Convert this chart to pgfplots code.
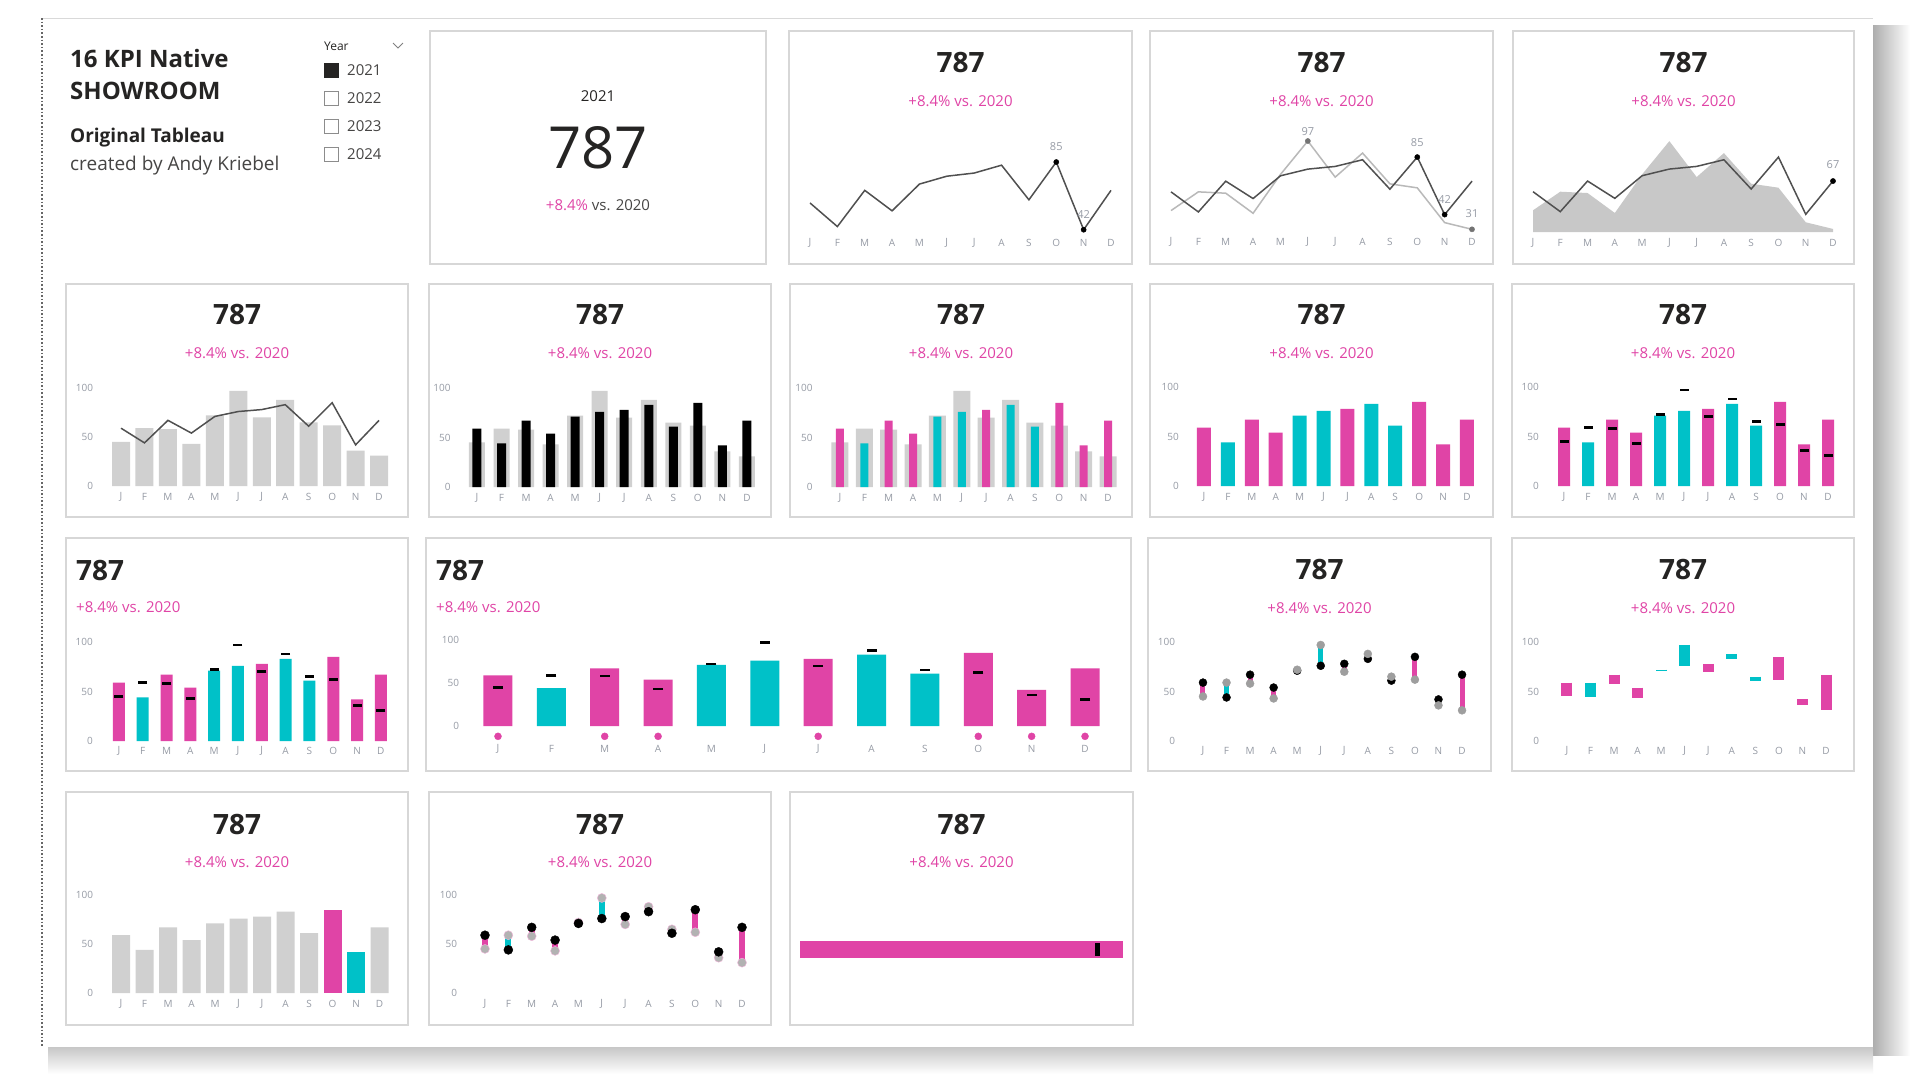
\documentclass[border=0pt]{standalone}
\usepackage{fontspec}
\setmainfont{Open Sans}
\usepackage{pgfplots}
\usepackage{pgfplotstable}
\pgfplotsset{compat=1.18}
\definecolor{pinkc}{RGB}{224,68,166}
\definecolor{cyanc}{RGB}{0,193,200}
\definecolor{barg}{RGB}{208,208,208}
\definecolor{areag}{RGB}{200,200,200}
\definecolor{lineg}{RGB}{80,80,80}
\definecolor{lightl}{RGB}{185,185,185}
\definecolor{tickg}{RGB}{150,155,165}
\definecolor{boxg}{RGB}{215,215,215}
\definecolor{ttlc}{RGB}{37,36,35}

\pgfplotstableread{
m cur prev
0 59 45
1 44 59
2 67 58
3 54 43
4 71 72
5 76 97
6 78 70
7 83 88
8 61 65
9 85 62
10 42 36
11 67 31
}\data
\pgfplotstableread{
m cur prev
0 59 45
2 67 58
3 54 43
6 78 70
9 85 62
10 42 36
11 67 31
}\up
\pgfplotstableread{
m cur prev
1 44 59
4 71 72
5 76 97
7 83 88
8 61 65
}\down

\pgfplotsset{
  kpibase/.style={scale only axis, anchor=south west, axis line style={draw=none},
    tick style={draw=none}, major tick length=0pt, clip=false,
    xtick={0,...,11}, xticklabels={J,F,M,A,M,J,J,A,S,O,N,D},
    tick label style={font=\fontsize{10}{10}\selectfont, text=tickg, inner sep=0pt},
    xticklabel style={anchor=center}},
  bars/.style={kpibase, xmin=-0.5, xmax=11.5, ymin=0, ymax=100, ytick={0,50,100},
    yticklabels={0,50,100}, yticklabel style={anchor=east}},
  lbl/.style={point meta=explicit symbolic, nodes near coords,
    every node near coord/.append style={anchor=center, font=\fontsize{11}{11}\selectfont, text=tickg, yshift=#1}},
  ptick/.style={only marks, mark=-, mark size=#1, mark options={line width=2.5pt, black}},
  seg/.style 2 args={draw=none, mark=none, forget plot, error bars/.cd, y dir=minus, y explicit,
    error bar style={draw=#1, line width=#2, solid}, error mark=none},
}
\newcommand\tfont{\fontsize{28}{30}\selectfont\bfseries\color{ttlc}}
\newcommand\sfont{\fontsize{15}{16}\selectfont\color{pinkc}}

\begin{document}
\begin{tikzpicture}[x=1pt,y=1pt]
\path[use as bounding box, fill=white] (0,0) rectangle (1920,-1080);
% page shadow
\shade[left color=black!32, right color=white] (1873,-25) rectangle (1910,-1055);
\shade[top color=black!22, bottom color=white] (48,-1047) rectangle (1873,-1074);
\fill[white] (42,-18) rectangle (1873,-1047);
\draw[black!15, line width=0.8pt] (42,-18) -- (1873,-18);
\draw[black!60, dotted, line width=1.6pt] (42,-18) -- (42,-1047);

% panel boxes
\foreach \a/\b/\c/\d in {430/31/766/264, 789/31/1132/264, 1150/31/1493/264, 1513/31/1854/264,
  66/284/408/517, 429/284/771/517, 790/284/1132/517, 1150/284/1493/517, 1512/284/1854/517,
  66/538/408/771, 426/538/1131/771, 1148/538/1491/771, 1512/538/1854/771,
  66/792/408/1025, 429/792/771/1025, 790/792/1133/1025}
  {\draw[boxg, line width=1.3pt, fill=white] (\a,-\b) rectangle (\c,-\d);}

% title block
\node[anchor=west, font=\fontsize{24}{26}\selectfont\bfseries, text=ttlc, inner sep=0] at (70,-58) {16 KPI Native};
\node[anchor=west, font=\fontsize{24}{26}\selectfont\bfseries, text=ttlc, inner sep=0] at (70,-91) {SHOWROOM};
\node[anchor=west, font=\fontsize{19}{20}\selectfont\bfseries, text=ttlc, inner sep=0] at (70,-138) {Original Tableau};
\node[anchor=west, font=\fontsize{19}{20}\selectfont, text=ttlc!85, inner sep=0] at (70,-166) {created by Andy Kriebel};
% slicer
\node[anchor=west, font=\fontsize{12}{12}\selectfont, text=ttlc, inner sep=0] at (324,-46) {Year};
\draw[black!50, line width=0.9pt] (393,-43) -- (398,-48) -- (403,-43);
\fill[ttlc] (324,-62.5) rectangle (339,-77.5);
\foreach \yy in {98,126,154} {\draw[black!45, line width=0.9pt] (324.5,-\yy+7) rectangle (338.5,-\yy-7);}
\foreach \yy/\tt in {70/2021,98/2022,126/2023,154/2024}
  {\node[anchor=west, font=\fontsize{15}{15}\selectfont, text=ttlc!85, inner sep=0] at (347,-\yy) {\tt};}

% KPI text card
\node[font=\fontsize{15}{15}\selectfont, text=ttlc, inner sep=0] at (598,-96) {2021};
\node[font=\fontsize{58}{60}\selectfont, text=ttlc, inner sep=0] at (598,-148) {787};
\node[font=\fontsize{15}{15}\selectfont, text=ttlc!85, inner sep=0] at (598,-205) {\textcolor{pinkc}{+8.4\%} vs. 2020};

% titles
\foreach \x/\y in {960.5/63, 1321.5/63, 1683.5/63, 237/315, 600/315, 961/315, 1321.5/315, 1683/315,
   1319.5/570, 1683/570, 237/824, 600/824, 961.5/824}
  {\node[inner sep=0] at (\x,-\y) {\tfont 787};
   \node[inner sep=0] at (\x,-\y-38) {\sfont +8.4\% vs. 2020};}
\node[anchor=west, inner sep=0] at (76,-571) {\tfont 787};
\node[anchor=west, inner sep=0] at (76,-607) {\sfont +8.4\% vs. 2020};
\node[anchor=west, inner sep=0] at (436,-571) {\tfont 787};
\node[anchor=west, inner sep=0] at (436,-607) {\sfont +8.4\% vs. 2020};

% ===== Row 1 =====
\begin{axis}[kpibase, at={(810pt,-236pt)}, width=301pt, height=96pt, xmin=0, xmax=11, ymin=38, ymax=99,
  ytick=\empty, xticklabel style={yshift=-7pt}]
\addplot[lineg, line width=1.5pt] table[x=m,y=cur]{\data};
\addplot[only marks, mark=*, mark size=2.6pt, black, lbl=15pt] coordinates {(9,85) [85] (10,42) [42]};
\end{axis}

\begin{axis}[kpibase, at={(1171pt,-236pt)}, width=301pt, height=101pt, xmin=0, xmax=11, ymin=26, ymax=101.5,
  ytick=\empty, xticklabel style={yshift=-6pt}]
\addplot[lightl, line width=1.5pt] table[x=m,y=prev]{\data};
\addplot[lineg, line width=1.5pt] table[x=m,y=cur]{\data};
\addplot[only marks, mark=*, mark size=2.6pt, black!55, lbl=9pt] coordinates {(5,97) [97]};
\addplot[only marks, mark=*, mark size=2.6pt, black!55, lbl=16pt] coordinates {(11,31) [31]};
\addplot[only marks, mark=*, mark size=2.6pt, black, lbl=15pt] coordinates {(9,85) [85] (10,42) [42]};
\end{axis}

\begin{axis}[kpibase, at={(1533pt,-232pt)}, width=300pt, height=97pt, xmin=0, xmax=11, ymin=28.7, ymax=101.6,
  ytick=\empty, xticklabel style={yshift=-11pt}]
\addplot[fill=areag, draw=none] coordinates {(0,28.7) (0,45) (1,59) (2,58) (3,43) (4,72) (5,97) (6,70) (7,88) (8,65) (9,62) (10,36) (11,31) (11,28.7)} -- cycle;
\addplot[lineg, line width=1.5pt] table[x=m,y=cur]{\data};
\addplot[only marks, mark=*, mark size=2.6pt, black, lbl=16pt] coordinates {(11,67) [67]};
\end{axis}

% ===== Row 2 =====
\begin{axis}[bars, at={(109.3pt,-486pt)}, width=281.5pt, height=98pt,
  xticklabel style={yshift=-11pt}, yticklabel style={xshift=-16pt}]
\addplot[ybar, bar width=18pt, bar shift=0pt, fill=barg, draw=none] table[x=m,y=prev]{\data};
\addplot[lineg, line width=1.5pt] table[x=m,y=cur]{\data};
\end{axis}

\begin{axis}[bars, at={(464.7pt,-487pt)}, width=294.5pt, height=99pt,
  xticklabel style={yshift=-11pt}, yticklabel style={xshift=-14pt}]
\addplot[ybar, bar width=16pt, bar shift=0pt, fill=barg, draw=none] table[x=m,y=prev]{\data};
\addplot[ybar, bar width=9pt, bar shift=0pt, fill=black, draw=none] table[x=m,y=cur]{\data};
\end{axis}

\begin{axis}[bars, at={(827.8pt,-487pt)}, width=292.4pt, height=99pt,
  xticklabel style={yshift=-11pt}, yticklabel style={xshift=-15pt}]
\addplot[ybar, bar width=17pt, bar shift=0pt, fill=barg, draw=none] table[x=m,y=prev]{\data};
\addplot[ybar, bar width=8pt, bar shift=0pt, fill=pinkc, draw=none] table[x=m,y=cur]{\up};
\addplot[ybar, bar width=8pt, bar shift=0pt, fill=cyanc, draw=none] table[x=m,y=cur]{\down};
\end{axis}

\begin{axis}[bars, at={(1192pt,-486pt)}, width=286.9pt, height=99pt,
  xticklabel style={yshift=-11pt}, yticklabel style={xshift=-13pt}]
\addplot[ybar, bar width=14pt, bar shift=0pt, fill=pinkc, draw=none] table[x=m,y=cur]{\up};
\addplot[ybar, bar width=14pt, bar shift=0pt, fill=cyanc, draw=none] table[x=m,y=cur]{\down};
\end{axis}

\begin{axis}[bars, at={(1552pt,-486pt)}, width=288pt, height=99pt,
  xticklabel style={yshift=-11pt}, yticklabel style={xshift=-13pt}]
\addplot[ybar, bar width=12pt, bar shift=0pt, fill=pinkc, draw=none] table[x=m,y=cur]{\up};
\addplot[ybar, bar width=12pt, bar shift=0pt, fill=cyanc, draw=none] table[x=m,y=cur]{\down};
\addplot[ptick=4.5pt] table[x=m,y=prev]{\data};
\end{axis}

% ===== Row 3 =====
\begin{axis}[bars, at={(107pt,-741pt)}, width=285.8pt, height=99pt,
  xticklabel style={yshift=-10pt}, yticklabel style={xshift=-14pt}]
\addplot[ybar, bar width=12pt, bar shift=0pt, fill=pinkc, draw=none] table[x=m,y=cur]{\up};
\addplot[ybar, bar width=12pt, bar shift=0pt, fill=cyanc, draw=none] table[x=m,y=cur]{\down};
\addplot[ptick=4.5pt] table[x=m,y=prev]{\data};
\end{axis}

\begin{axis}[bars, at={(471.3pt,-726pt)}, width=640.4pt, height=86pt,
  xticklabel style={yshift=-23pt}, yticklabel style={xshift=-12pt}]
\addplot[ybar, bar width=29pt, bar shift=0pt, fill=pinkc, draw=none] table[x=m,y=cur]{\up};
\addplot[ybar, bar width=29pt, bar shift=0pt, fill=cyanc, draw=none] table[x=m,y=cur]{\down};
\addplot[ptick=5pt] table[x=m,y=prev]{\data};
\addplot[only marks, mark=*, mark size=3.5pt, pinkc] coordinates {(0,-12) (2,-12) (3,-12) (6,-12) (9,-12) (10,-12) (11,-12)};
\end{axis}

\begin{axis}[bars, at={(1191.2pt,-741pt)}, width=282.6pt, height=99pt,
  xticklabel style={yshift=-10pt}, yticklabel style={xshift=-16pt}]
\addplot[seg={pinkc}{5pt}] table[x=m,y=cur,y error expr=\thisrow{cur}-\thisrow{prev}]{\up};
\addplot[seg={cyanc}{5pt}] table[x=m,y=prev,y error expr=\thisrow{prev}-\thisrow{cur}]{\down};
\addplot[only marks, mark=*, mark size=4pt, black] table[x=m,y=cur]{\data};
\addplot[only marks, mark=*, mark size=4pt, black!38] table[x=m,y=prev]{\data};
\end{axis}

\begin{axis}[bars, at={(1555.2pt,-741pt)}, width=282.6pt, height=99pt,
  xticklabel style={yshift=-10pt}, yticklabel style={xshift=-16pt}]
\addplot[seg={pinkc}{11pt}] table[x=m,y=cur,y error expr=\thisrow{cur}-\thisrow{prev}]{\up};
\addplot[seg={cyanc}{11pt}] table[x=m,y=prev,y error expr=\thisrow{prev}-\thisrow{cur}]{\down};
\end{axis}

% ===== Row 4 =====
\begin{axis}[bars, at={(109.3pt,-993pt)}, width=282pt, height=98pt,
  xticklabel style={yshift=-11pt}, yticklabel style={xshift=-16pt}]
\addplot[ybar, bar width=18pt, bar shift=0pt, fill=barg, draw=none] coordinates {(0,59) (1,44) (2,67) (3,54) (4,71) (5,76) (6,78) (7,83) (8,61) (11,67)};
\addplot[ybar, bar width=18pt, bar shift=0pt, fill=pinkc, draw=none] coordinates {(9,85)};
\addplot[ybar, bar width=18pt, bar shift=0pt, fill=cyanc, draw=none] coordinates {(10,42)};
\end{axis}

\begin{axis}[bars, at={(473.3pt,-993pt)}, width=280.4pt, height=98pt,
  xticklabel style={yshift=-11pt}, yticklabel style={xshift=-16pt}]
\addplot[seg={pinkc}{6pt}] table[x=m,y=cur,y error expr=\thisrow{cur}-\thisrow{prev}]{\up};
\addplot[seg={cyanc}{6pt}] table[x=m,y=prev,y error expr=\thisrow{prev}-\thisrow{cur}]{\down};
\addplot[only marks, mark=*, mark size=4.5pt, black!30, mark options={draw=pinkc!40}] table[x=m,y=prev]{\data};
\addplot[only marks, mark=*, mark size=4.5pt, black] table[x=m,y=cur]{\data};
\end{axis}

\begin{axis}[kpibase, at={(800pt,-958pt)}, width=323pt, height=17pt, xmin=0, xmax=787, ymin=-0.5, ymax=0.5,
  xtick=\empty, ytick=\empty]
\addplot[xbar, bar width=17pt, bar shift=0pt, fill=pinkc, draw=none] coordinates {(787,0)};
\addplot[only marks, mark=|, mark size=6.5pt, mark options={line width=5pt, black}] coordinates {(726,0)};
\end{axis}
\end{tikzpicture}
\end{document}
